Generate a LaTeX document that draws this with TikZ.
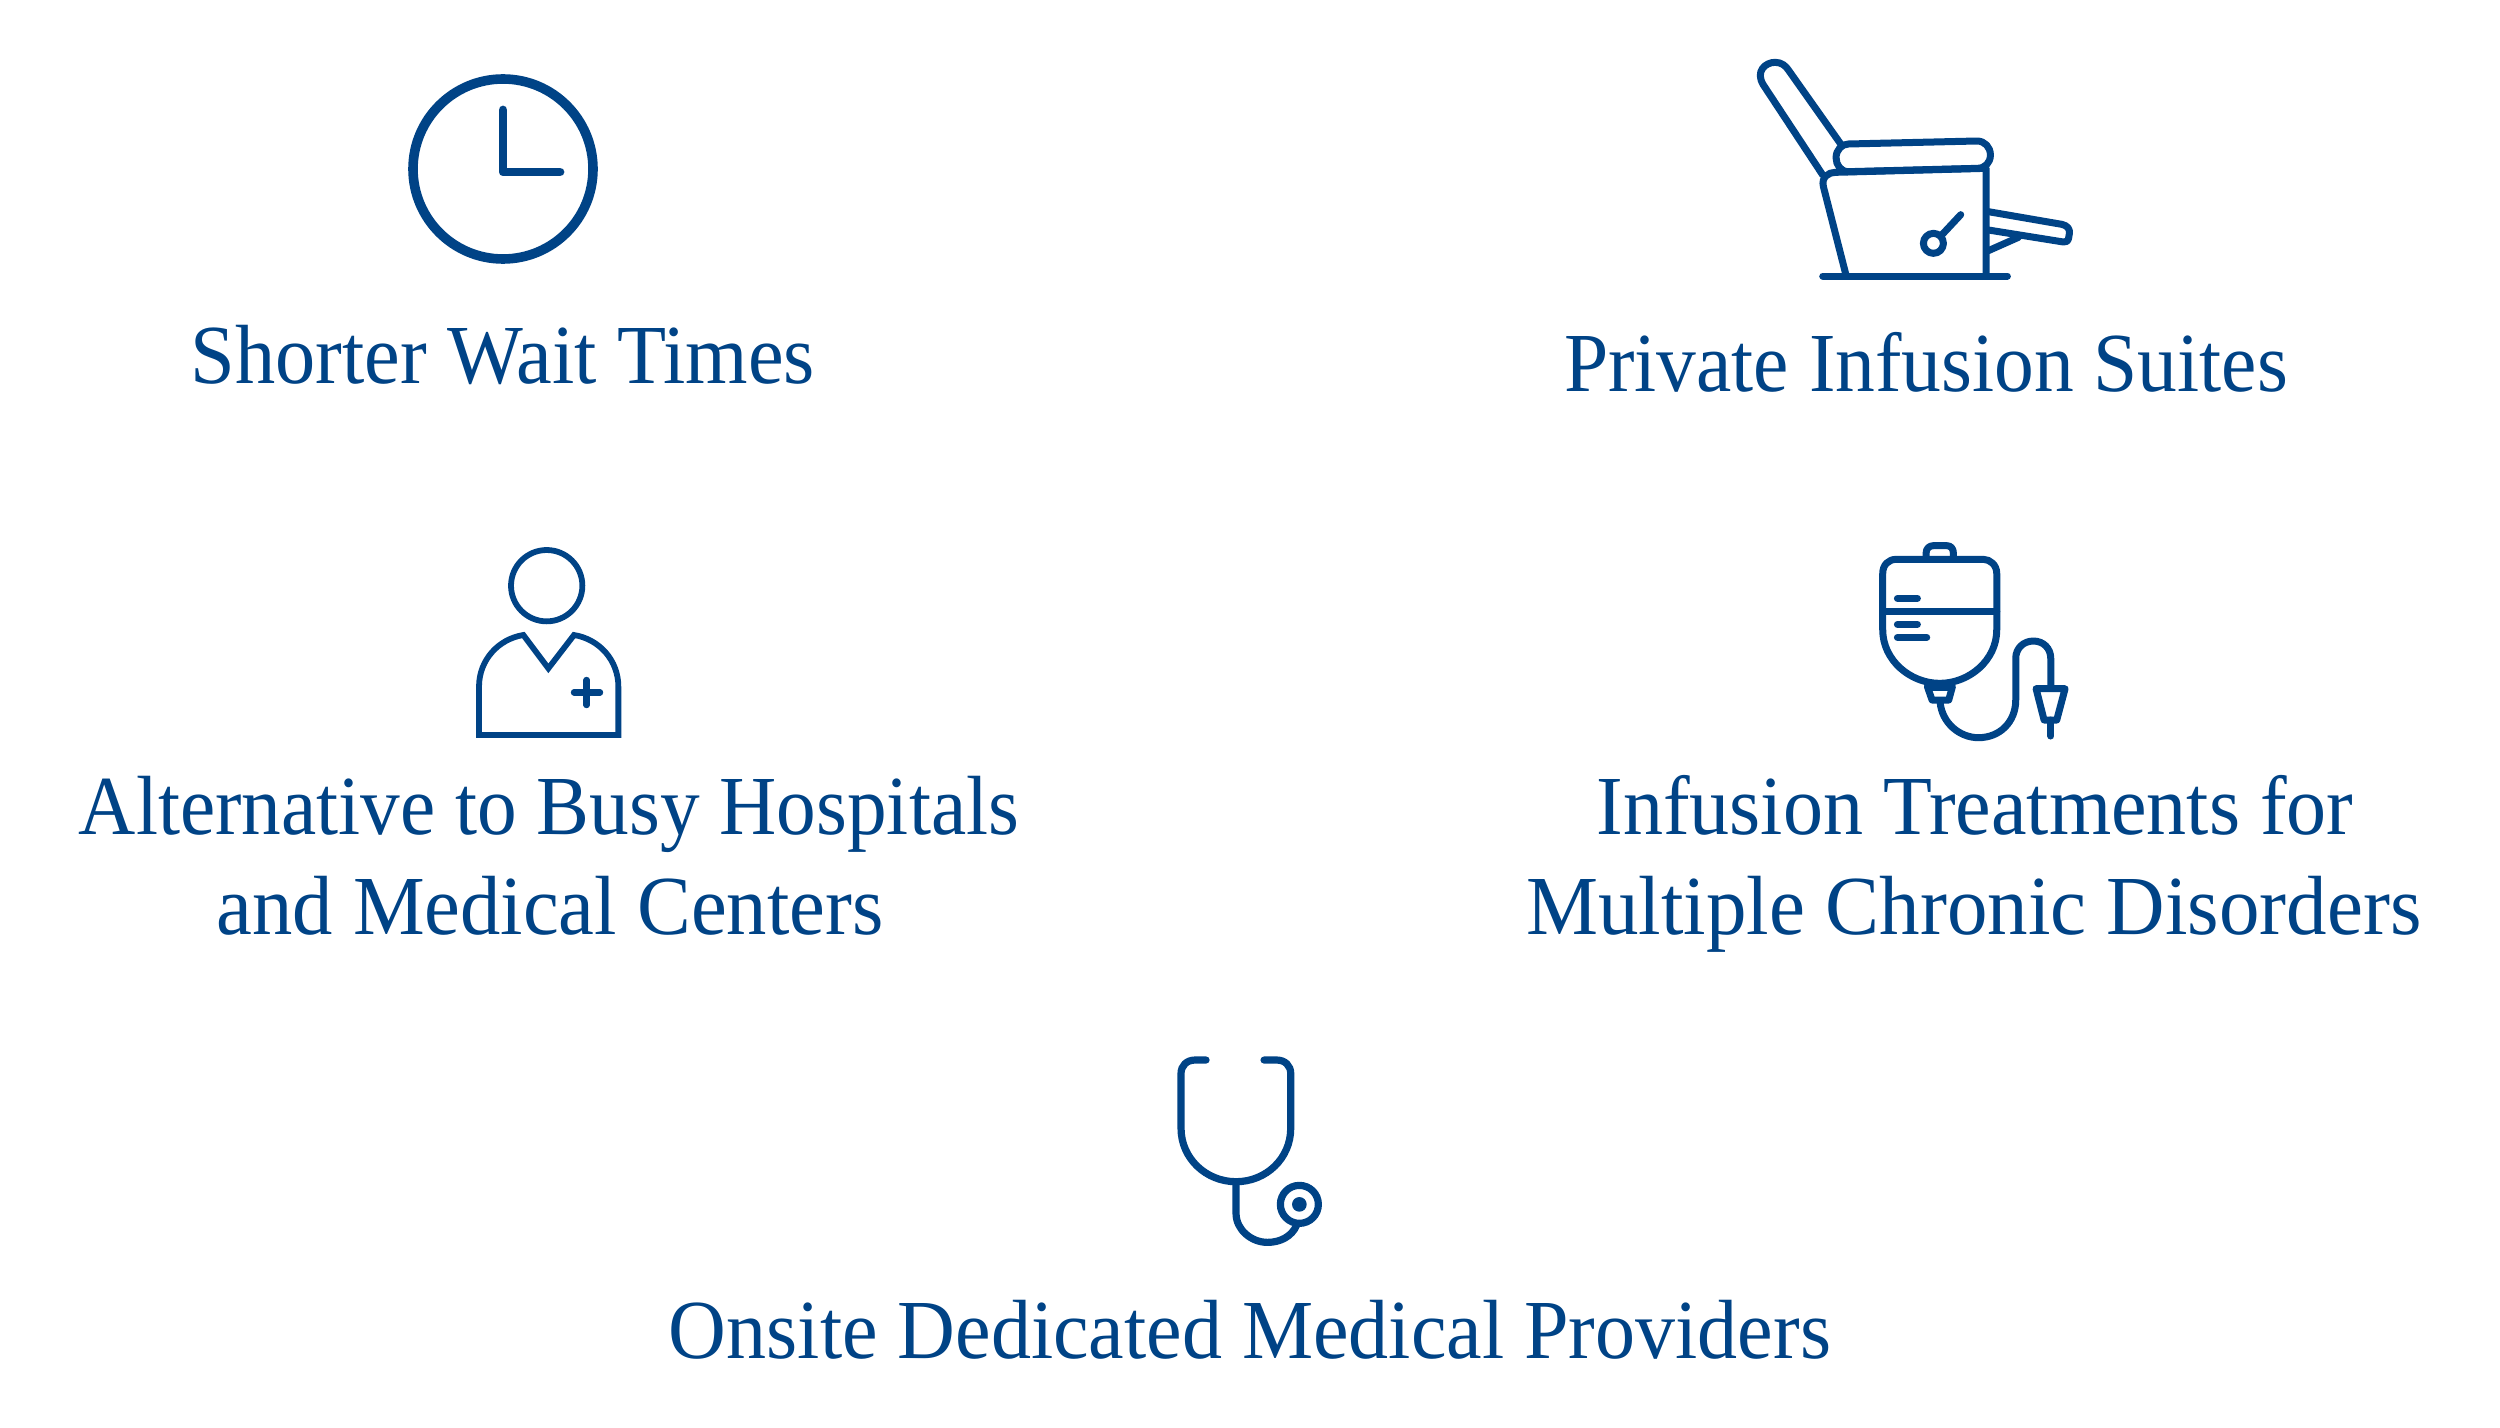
\documentclass[tikz,border=0pt]{standalone}
\usepackage{graphicx}
\usepackage{fontspec}
\setmainfont{Liberation Serif}
\definecolor{navy}{HTML}{004386}
\newcommand{\fitw}[2]{\resizebox{#1pt}{\height}{#2}}
\tikzset{
  label/.style={anchor=base,inner sep=0pt,text=navy,font=\fontsize{42}{50}\selectfont},
  icon/.style={draw=navy,line width=#1,line cap=round,line join=round},
  icon/.default=3.5pt,
  zoomed/.style={x=0.16667pt,y=-0.16667pt}
}
\begin{document}
\begin{tikzpicture}[x=0.5pt,y=-0.5pt]
\useasboundingbox[fill=white] (0,0) rectangle (2500,1428);
% clock
\draw[icon=4.8pt] (503,169) circle (90);
\draw[icon=4.4pt] (503,110) -- (503,172) -- (560,172);
% chair
\begin{scope}[zoomed,shift={(5160,120)}]
\draw[icon] (308,405) -- (130,135) .. controls (105,95) and (135,67) .. (165,67) .. controls (185,67) and (197,78) .. (205,90) -- (362,312);
\draw[icon] (385,312) -- (770,303) .. controls (795,303) and (811,322) .. (811,345) .. controls (811,368) and (795,385) .. (772,385) -- (385,395) .. controls (362,395) and (348,375) .. (348,353) .. controls (348,330) and (365,312) .. (385,312) -- cycle;
\draw[icon] (377,702) -- (310,440) .. controls (303,412) and (325,397) .. (345,397) -- (798,385) -- (798,705);
\draw[icon] (308,708) -- (862,708);
\draw[icon] (640,610) circle (30);
\draw[icon] (665,585) -- (722,524);
\draw[icon] (805,515) -- (1025,553) .. controls (1042,556) and (1050,568) .. (1048,580) -- (1046,592) .. controls (1045,603) and (1038,608) .. (1030,606) -- (805,570);
\draw[icon] (805,632) -- (895,592);
\end{scope}
% person
\begin{scope}[zoomed,shift={(1350,1590)}]
\draw[icon=2.9pt] (290,167) circle (107);
\draw[icon=2.9pt,line cap=butt,line join=miter] (87,615) -- (87,470) .. controls (87,390) and (145,327) .. (220,315) -- (295,415) -- (372,315) .. controls (447,327) and (505,390) .. (505,470) -- (505,615) -- cycle;
\draw[icon=3.2pt] (372,487) -- (450,487);
\draw[icon=3.2pt] (410,450) -- (410,525);
\end{scope}
% infusion bag
\begin{scope}[zoomed,shift={(5520,1590)}]
\draw[icon] (128,300) .. controls (128,390) and (210,460) .. (299,460) .. controls (388,460) and (470,390) .. (470,300) -- (470,130) .. controls (470,105) and (450,88) .. (430,88) -- (168,88) .. controls (145,88) and (128,105) .. (128,130) -- cycle;
\draw[icon] (128,245) -- (470,245);
\draw[icon] (172,205) -- (232,205);
\draw[icon] (172,283) -- (232,283);
\draw[icon] (172,322) -- (260,322);
\draw[icon] (258,85) -- (258,70) .. controls (258,55) and (268,47) .. (280,47) -- (320,47) .. controls (332,47) and (340,55) .. (340,70) -- (340,85);
\draw[icon] (262,470) -- (276,510) -- (326,510) -- (337,470);
\draw[icon] (270,473) -- (330,473);
\draw[icon] (300,515) .. controls (305,580) and (360,623) .. (415,623) .. controls (480,623) and (527,575) .. (527,510) -- (527,385) .. controls (527,355) and (550,333) .. (580,333) .. controls (610,333) and (632,355) .. (632,385) -- (632,475);
\draw[icon] (588,476) -- (675,476) -- (650,570) -- (612,570) -- cycle;
\draw[icon] (632,570) -- (632,618);
\end{scope}
% stethoscope
\begin{scope}[zoomed,shift={(3450,3120)}]
\draw[icon=3.6pt] (168,60) -- (135,60) .. controls (110,60) and (93,77) .. (93,100) -- (93,265) .. controls (93,355) and (168,425) .. (258,425) .. controls (348,425) and (422,355) .. (422,265) -- (422,100) .. controls (422,77) and (405,60) .. (380,60) -- (342,60);
\draw[icon=3.6pt] (258,425) -- (258,520) .. controls (258,570) and (305,607) .. (352,607) .. controls (390,607) and (425,590) .. (440,555);
\draw[icon=3.6pt] (448,493) circle (57);
\fill[navy] (448,493) circle (22);
\end{scope}
% labels
\node[label] (wait) at (503,384) {\fitw{312}{Shorter Wait Times}};
\node[label] (suite) at (1926,392) {\fitw{362}{Private Infusion Suites}};
\node[label] (alt1) at (549,834) {\fitw{470}{Alternative to Busy Hospitals}};
\node[label] (alt2) at (550,934) {\fitw{333.5}{and Medical Centers}};
\node[label] (inf1) at (1975,834) {\fitw{378.5}{Infusion Treatments for}};
\node[label] (inf2) at (1974,934) {\fitw{447.5}{Multiple Chronic Disorders}};
\node[label] (onsite) at (1250,1358) {\fitw{581}{Onsite Dedicated Medical Providers}};
\end{tikzpicture}
\end{document}
